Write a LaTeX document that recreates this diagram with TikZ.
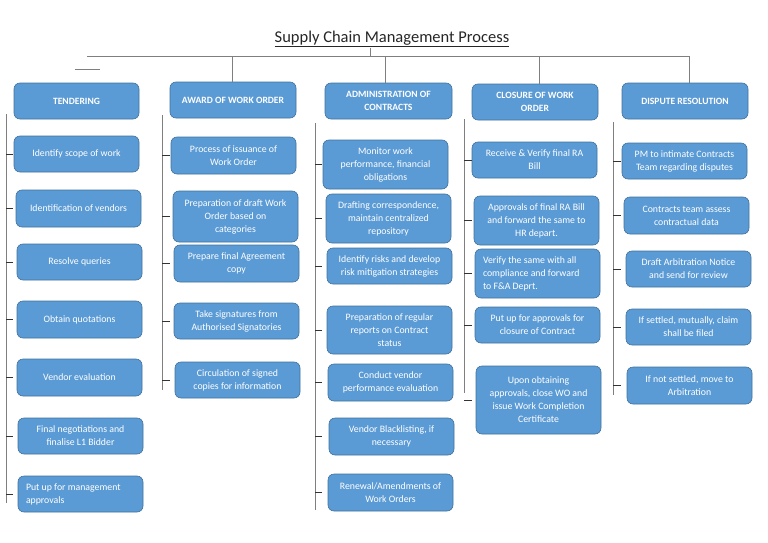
\documentclass[tikz,border=0pt]{standalone}
\usepackage{fontspec}
\setmainfont{Carlito}
\definecolor{boxblue}{HTML}{5B9BD5}
\definecolor{boxedge}{HTML}{41719C}
\definecolor{linegray}{HTML}{7F7F7F}
\tikzset{
  box/.style={draw=boxedge, line width=0.6pt, fill=boxblue, rounded corners=6pt, text=white,
    align=center, inner sep=2pt, font=\fontsize{9.8}{13}\selectfont},
  leftbox/.style={box, align=flush left, text width=109pt},
  head/.style={box, font=\fontsize{9.6}{13}\selectfont\bfseries},
  conn/.style={draw=linegray, line width=0.8pt},
  tick/.style={draw=black!80, line width=0.8pt}
}
\begin{document}
\begin{tikzpicture}[x=1pt,y=-1pt]
\useasboundingbox (0,0) rectangle (768,543);
% title
\node[font=\fontsize{16.5}{19}\selectfont, text=black!85] (title) at (392,39) {\underline{Supply Chain Management Process}};
\coordinate (stubtop) at (370,48);
\coordinate (tl) at (87,56);
\coordinate (tr) at (689,56);
\coordinate (strayl) at (75,69);
\coordinate (strayr) at (100,69);
% headers
\node[head, minimum width=125pt, minimum height=36pt] (H1) at (76.5,101) {TENDERING};
\node[head, minimum width=126pt, minimum height=36pt] (H2) at (233,100) {AWARD OF WORK ORDER};
\node[head, minimum width=127pt, minimum height=36pt] (H3) at (388.5,101) {ADMINISTRATION OF\\CONTRACTS};
\node[head, minimum width=126pt, minimum height=36pt] (H4) at (535,102) {CLOSURE OF WORK\\ORDER};
\node[head, minimum width=126pt, minimum height=36pt] (H5) at (685,101) {DISPUTE RESOLUTION};
% top connectors
\draw[conn] (tl) -- (tr);
\draw[conn] (stubtop) -- (stubtop |- tl);
\draw[conn] ([xshift=-1pt]H2.north) -- ([xshift=-1pt]H2.north |- tl);
\draw[conn] ([xshift=-3.5pt]H3.north) -- ([xshift=-3.5pt]H3.north |- tl);
\draw[conn] ([xshift=4pt]H4.north) -- ([xshift=4pt]H4.north |- tl);
\draw[conn] ([xshift=4pt]H5.north) -- ([xshift=4pt]H5.north |- tl);
\draw[conn] (strayl) -- (strayr);
% column 1
\node[box, minimum width=125pt, minimum height=36pt] (a1) at (76.5,154) {Identify scope of work};
\node[box, minimum width=125pt, minimum height=37pt] (a2) at (78.5,208.5) {Identification of vendors};
\node[box, minimum width=125pt, minimum height=36pt] (a3) at (79.5,262) {Resolve queries};
\node[box, minimum width=125pt, minimum height=37pt] (a4) at (79.5,319.5) {Obtain quotations};
\node[box, minimum width=125pt, minimum height=37pt] (a5) at (79.5,377.5) {Vendor evaluation};
\node[box, minimum width=125pt, minimum height=36pt] (a6) at (80.5,436) {Final negotiations and\\finalise L1 Bidder};
\node[leftbox, minimum width=125pt, minimum height=36pt] (a7) at (80.5,494) {Put up for management\\approvals};
% column 2
\node[box, minimum width=125pt, minimum height=37pt] (b1) at (233.5,155.5) {Process of issuance of\\Work Order};
\node[box, minimum width=125pt, minimum height=51pt] (b2) at (235.5,216.5) {Preparation of draft Work\\Order based on\\categories};
\node[box, minimum width=125pt, minimum height=37pt] (b3) at (236.5,263.5) {Prepare final Agreement\\copy};
\node[box, minimum width=125pt, minimum height=36pt] (b4) at (236.5,321) {Take signatures from\\Authorised Signatories};
\node[box, minimum width=125pt, minimum height=36pt] (b5) at (237.5,380) {Circulation of signed\\copies for information};
% column 3
\node[box, minimum width=125pt, minimum height=49pt] (c1) at (385.5,164.5) {Monitor work\\performance, financial\\obligations};
\node[box, minimum width=125pt, minimum height=49pt] (c2) at (388.5,218.5) {Drafting correspondence,\\maintain centralized\\repository};
\node[box, minimum width=125pt, minimum height=36pt] (c3) at (389.5,266) {Identify risks and develop\\risk mitigation strategies};
\node[box, minimum width=125pt, minimum height=48pt] (c4) at (389.5,330) {Preparation of regular\\reports on Contract\\status};
\node[box, minimum width=125pt, minimum height=37pt] (c5) at (390.5,382.5) {Conduct vendor\\performance evaluation};
\node[box, minimum width=125pt, minimum height=37pt] (c6) at (391.5,436.5) {Vendor Blacklisting, if\\necessary};
\node[box, minimum width=125pt, minimum height=37pt] (c7) at (390.5,492.5) {Renewal/Amendments of\\Work Orders};
% column 4
\node[box, minimum width=125pt, minimum height=36pt] (d1) at (534.5,160) {Receive \& Verify final RA\\Bill};
\node[box, minimum width=125pt, minimum height=49pt] (d2) at (536.5,220.5) {Approvals of final RA Bill\\and forward the same to\\HR depart.};
\node[leftbox, minimum width=125pt, minimum height=49pt] (d3) at (537.5,273.5) {Verify the same with all\\compliance and forward\\to F\&A Deprt.};
\node[box, minimum width=125pt, minimum height=36pt] (d4) at (537.5,325) {Put up for approvals for\\closure of Contract};
\node[box, minimum width=125pt, minimum height=68pt] (d5) at (538.5,400) {Upon obtaining\\approvals, close WO and\\issue Work Completion\\Certificate};
% column 5
\node[box, minimum width=125pt, minimum height=36pt] (e1) at (684.5,161) {PM to intimate Contracts\\Team regarding disputes};
\node[box, minimum width=125pt, minimum height=37pt] (e2) at (686.5,215.5) {Contracts team assess\\contractual data};
\node[box, minimum width=125pt, minimum height=36pt] (e3) at (688.5,269) {Draft Arbitration Notice\\and send for review};
\node[box, minimum width=125pt, minimum height=36pt] (e4) at (688.5,327) {If settled, mutually, claim\\shall be filed};
\node[box, minimum width=125pt, minimum height=37pt] (e5) at (689.5,385.5) {If not settled, move to\\Arbitration};
% spines
\coordinate (s1t) at (6,114);   \coordinate (s1b) at (6,503);
\coordinate (s2t) at (162,115); \coordinate (s2b) at (162,390);
\coordinate (s3t) at (315,123); \coordinate (s3b) at (315,510);
\coordinate (s4t) at (464,119); \coordinate (s4b) at (464,393);
\coordinate (s5t) at (613,122); \coordinate (s5b) at (613,395);
\draw[conn] (s1t) -- (s1b);
\draw[conn] (s2t) -- (s2b);
\draw[conn] (s3t) -- (s3b);
\draw[conn] (s4t) -- (s4b);
\draw[conn] (s5t) -- (s5b);
\foreach \n in {a1,a2,a3,a4,a5,a6,a7} \draw[tick] (\n.west -| s1t) -- ++(7,0);
\foreach \n in {b1,b2,b3,b4,b5} \draw[tick] (\n.west -| s2t) -- ++(8,0);
\foreach \n in {c1,c2,c3,c4,c5,c6,c7} \draw[tick] (\n.west -| s3t) -- ++(7,0);
\foreach \n in {d1,d2,d3,d4,d5} \draw[tick] (\n.west -| s4t) -- ++(8,0);
\foreach \n in {e1,e2,e3,e4,e5} \draw[tick] (\n.west -| s5t) -- ++(8,0);
\end{tikzpicture}
\end{document}
